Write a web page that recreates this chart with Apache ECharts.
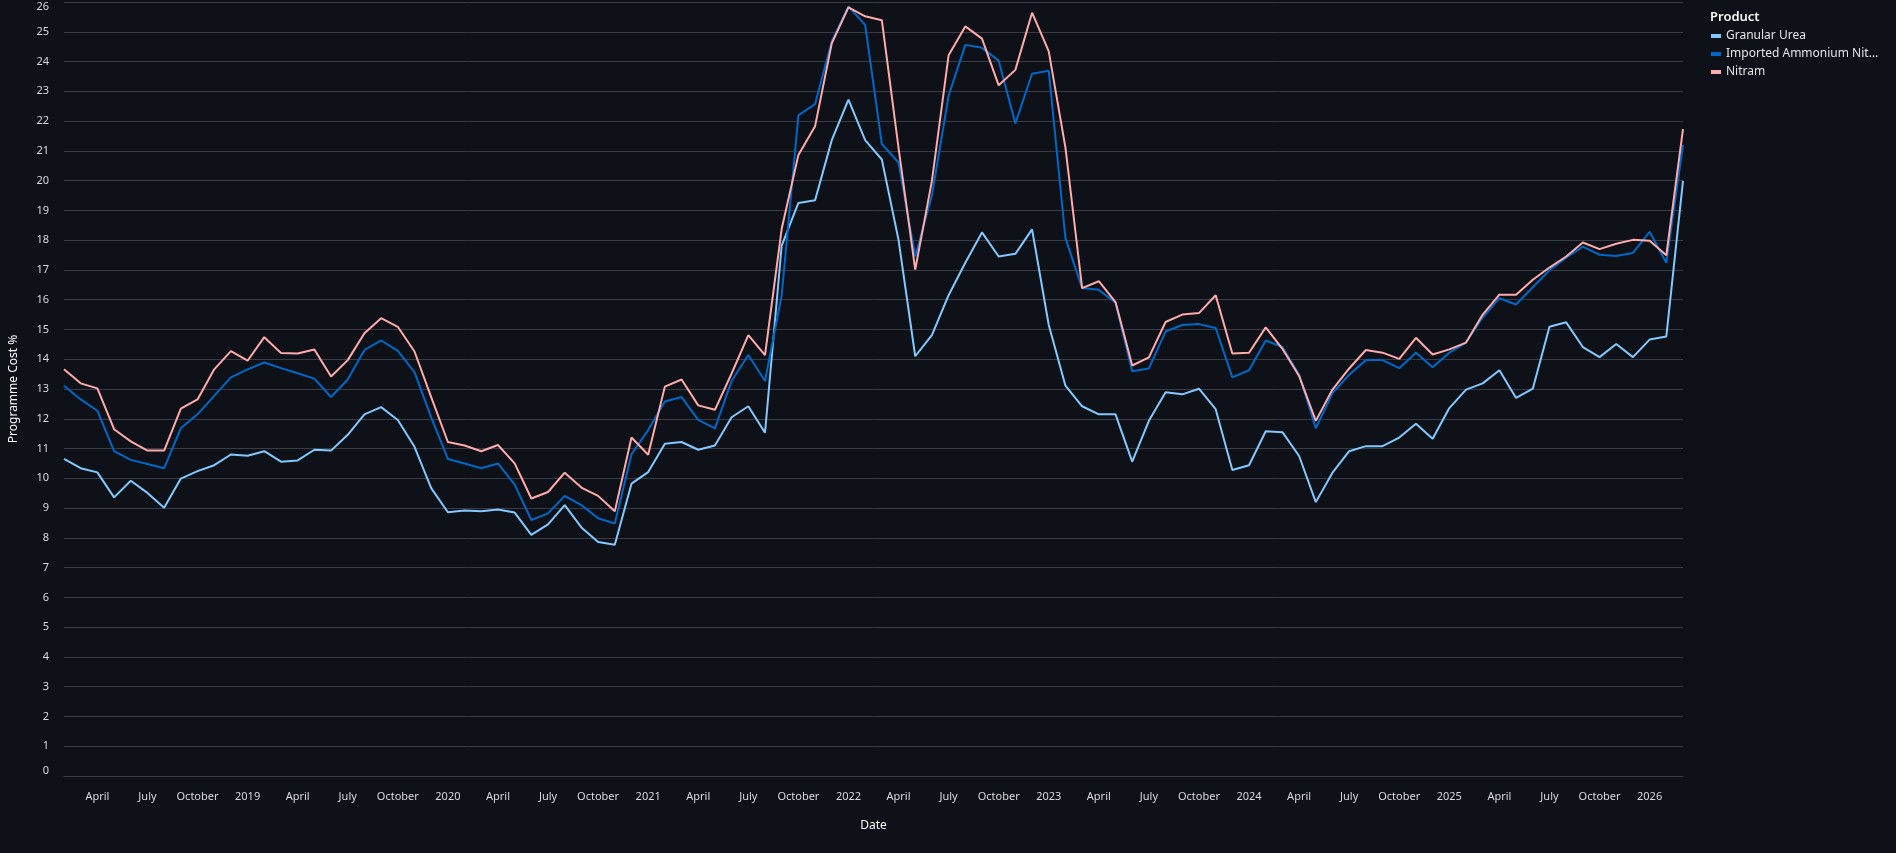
<!DOCTYPE html>
<html>
<head>
<meta charset="utf-8">
<title>Programme Cost %</title>
<script src="https://cdn.jsdelivr.net/npm/echarts@6/dist/echarts.min.js"></script>
<style>
    html, body { margin: 0; padding: 0; background: #0e1117; }
    #chart { width: 1896px; height: 853px; }
</style>
</head>
<body>
<div id="chart"></div>
<script>
let chart = echarts.init(document.getElementById('chart'));

// months: Feb 2018 .. Mar 2026
let start_year = 2018;
let start_month = 2;
let month_count = 98;
let months = [];
for (let i = 0; i < month_count; i++) {
    let m = start_month - 1 + i;
    let y = start_year + Math.floor(m / 12);
    let mm = (m % 12) + 1;
    months.push(y + '-' + (mm < 10 ? '0' + mm : '' + mm));
}

// tick labels on the date axis
let tick_names = {'01': null, '04': 'April', '07': 'July', '10': 'October'};

let products = ['Granular Urea', 'Imported Ammonium Nitrate', 'Nitram'];
let colors = ['#83c9ff', '#0068c9', '#ffabab'];

let granular_urea = [
    10.65, 10.34, 10.20, 9.36, 9.92, 9.51, 9.01, 9.99, 10.24, 10.44, 10.80, 10.76,
    10.91, 10.56, 10.60, 10.96, 10.93, 11.46, 12.15, 12.39, 11.96, 11.06, 9.67, 8.86,
    8.92, 8.89, 8.95, 8.85, 8.10, 8.45, 9.10, 8.35, 7.86, 7.77, 9.82, 10.21,
    11.16, 11.22, 10.96, 11.10, 12.05, 12.42, 11.53, 17.82, 19.25, 19.34, 21.36, 22.72,
    21.36, 20.71, 18.01, 14.10, 14.81, 16.15, 17.24, 18.26, 17.45, 17.54, 18.36, 15.15,
    13.11, 12.42, 12.15, 12.15, 10.56, 11.93, 12.89, 12.82, 13.01, 12.32, 10.28, 10.44,
    11.58, 11.55, 10.75, 9.20, 10.19, 10.91, 11.08, 11.08, 11.37, 11.83, 11.33, 12.36,
    12.98, 13.19, 13.63, 12.70, 13.01, 15.09, 15.24, 14.41, 14.07, 14.51, 14.07, 14.66,
    14.76, 19.99
];

let imported_an = [
    13.11, 12.65, 12.27, 10.91, 10.62, 10.48, 10.34, 11.68, 12.15, 12.77, 13.39, 13.66,
    13.89, 13.70, 13.53, 13.35, 12.73, 13.32, 14.31, 14.63, 14.28, 13.57, 12.05, 10.65,
    10.50, 10.34, 10.50, 9.79, 8.60, 8.82, 9.41, 9.10, 8.66, 8.48, 10.81, 11.62,
    12.58, 12.73, 11.96, 11.68, 13.27, 14.14, 13.27, 16.15, 22.19, 22.57, 24.68, 25.85,
    25.23, 21.23, 20.61, 17.45, 19.50, 22.85, 24.56, 24.46, 24.03, 21.92, 23.59, 23.69,
    18.07, 16.39, 16.33, 15.90, 13.60, 13.69, 14.93, 15.15, 15.18, 15.05, 13.39, 13.63,
    14.63, 14.41, 13.48, 11.68, 12.86, 13.48, 13.97, 13.97, 13.70, 14.22, 13.73, 14.22,
    14.56, 15.40, 16.05, 15.84, 16.42, 16.99, 17.41, 17.78, 17.51, 17.47, 17.57, 18.28,
    17.24, 21.20
];

let nitram = [
    13.66, 13.19, 13.02, 11.65, 11.24, 10.93, 10.93, 12.34, 12.65, 13.66, 14.27, 13.95,
    14.74, 14.21, 14.19, 14.33, 13.42, 13.97, 14.87, 15.38, 15.09, 14.26, 12.73, 11.22,
    11.10, 10.91, 11.12, 10.50, 9.32, 9.54, 10.19, 9.69, 9.41, 8.89, 11.37, 10.79,
    13.08, 13.32, 12.45, 12.30, 13.52, 14.81, 14.14, 18.38, 20.86, 21.83, 24.61, 25.82,
    25.52, 25.39, 21.10, 17.01, 19.99, 24.21, 25.18, 24.77, 23.20, 23.72, 25.64, 24.34,
    21.11, 16.39, 16.62, 15.92, 13.79, 14.06, 15.25, 15.50, 15.55, 16.15, 14.19, 14.22,
    15.07, 14.35, 13.44, 11.93, 12.98, 13.69, 14.31, 14.22, 14.01, 14.72, 14.16, 14.33,
    14.56, 15.50, 16.17, 16.17, 16.67, 17.08, 17.45, 17.92, 17.70, 17.88, 18.01, 17.98,
    17.49, 21.73
];

let font = '"Noto Sans", "Open Sans", sans-serif';
let label_color = '#d9dadd';
let grid_color = '#393b46';

function make_series(name, data, color) {
    return {
        name: name,
        type: 'line',
        data: data,
        symbol: 'none',
        lineStyle: {width: 2, color: color},
        itemStyle: {color: color},
        emphasis: {disabled: true}
    };
}

let option = {
    backgroundColor: '#0e1117',
    animation: false,
    title: {
        text: 'Product',
        left: 1710,
        top: 11,
        padding: 0,
        textStyle: {color: '#fafafa', fontSize: 13, fontWeight: 600, fontFamily: font}
    },
    legend: {
        orient: 'vertical',
        left: 1711,
        top: 27,
        padding: 0,
        itemGap: 0,
        icon: 'rect',
        itemWidth: 10,
        itemHeight: 4,
        data: products,
        textStyle: {
            color: '#e2e3e6',
            fontSize: 12,
            fontFamily: font,
            lineHeight: 18,
            width: 157,
            overflow: 'truncate',
            ellipsis: '…'
        }
    },
    tooltip: {trigger: 'axis'},
    grid: {left: 58, right: 213, top: 2, bottom: 77, containLabel: false},
    xAxis: {
        type: 'category',
        data: months,
        boundaryGap: false,
        name: 'Date',
        nameLocation: 'middle',
        nameGap: 44,
        nameTextStyle: {color: '#fafafa', fontSize: 12, fontFamily: font},
        axisLine: {show: true, lineStyle: {color: grid_color, width: 1}},
        axisTick: {show: false},
        splitLine: {show: false},
        axisLabel: {
            color: label_color,
            fontSize: 11,
            fontFamily: font,
            margin: 15,
            interval: function (index, value) {
                return value.slice(5) in tick_names;
            },
            formatter: function (value) {
                let mm = value.slice(5);
                return tick_names[mm] === null ? value.slice(0, 4) : tick_names[mm];
            }
        }
    },
    yAxis: {
        type: 'value',
        min: 0,
        max: 26,
        interval: 1,
        name: 'Programme Cost %',
        nameLocation: 'middle',
        nameGap: 44,
        nameTextStyle: {color: '#fafafa', fontSize: 12, fontFamily: font},
        axisLine: {show: false},
        axisTick: {show: false},
        splitLine: {lineStyle: {color: grid_color, width: 1}},
        axisLabel: {
            color: label_color,
            fontSize: 11,
            fontFamily: font,
            margin: 15,
            formatter: function (v) {
                if (v === 26) return '{top|' + v + '}';
                if (v === 0) return '{bot|' + v + '}';
                return '' + v;
            },
            rich: {
                top: {padding: [10, 0, 0, 0], color: label_color, fontSize: 11, fontFamily: font},
                bot: {padding: [0, 0, 10, 0], color: label_color, fontSize: 11, fontFamily: font}
            }
        }
    },
    series: [
        make_series(products[0], granular_urea, colors[0]),
        make_series(products[1], imported_an, colors[1]),
        make_series(products[2], nitram, colors[2])
    ]
};

chart.setOption(option);
</script>
</body>
</html>
